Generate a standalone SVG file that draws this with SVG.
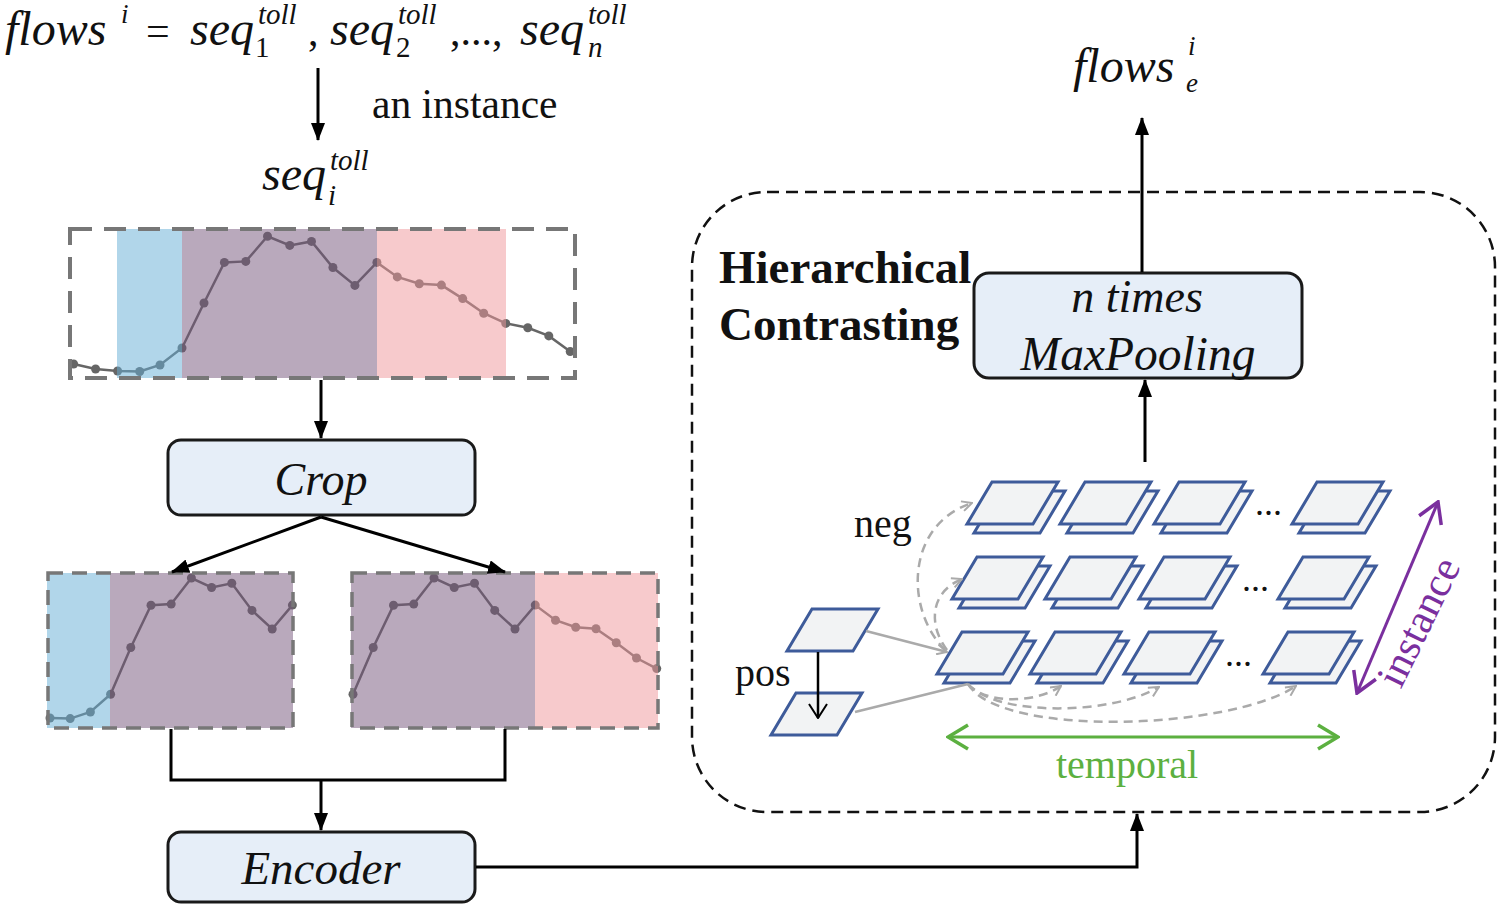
<svg xmlns="http://www.w3.org/2000/svg" xmlns:xlink="http://www.w3.org/1999/xlink" width="1500" height="907" viewBox="0 0 1500 907">
<style>
.it{font-family:"Liberation Serif",serif;font-style:italic;fill:#111}
.rm{font-family:"Liberation Serif",serif;fill:#111}
.bd{font-family:"Liberation Serif",serif;font-weight:bold;fill:#111}
.box{fill:#e6eef8;stroke:#1a1a1a;stroke-width:3}
.conn{fill:none;stroke:#000;stroke-width:3}
.gl{fill:none;stroke:#aaa;stroke-width:2.5}
.gd{fill:none;stroke:#aaa;stroke-width:2.5;stroke-dasharray:9 6}
.pg{fill:#f2f3f4;stroke:#3e5b9a;stroke-width:3;stroke-linejoin:miter}
.ln{fill:none;stroke:#666;stroke-width:2.5}
.dt{fill:#666}
.b1{fill:#63add5;opacity:.5}
.b2{fill:#735379;opacity:.5}
.b3{fill:#ef9599;opacity:.5}
.frame{fill:none;stroke:#777}
</style>
<defs>
<marker id="ah" viewBox="0 0 18 14" refX="17" refY="7" markerWidth="18" markerHeight="14" markerUnits="userSpaceOnUse" orient="auto"><path d="M0,0 L18,7 L0,14 Z" fill="#000"/></marker>
<marker id="ga" viewBox="0 0 12 12" refX="11" refY="6" markerWidth="12" markerHeight="12" markerUnits="userSpaceOnUse" orient="auto"><path d="M1,1 L11,6 L1,11" fill="none" stroke="#aaa" stroke-width="2"/></marker>
<marker id="va" viewBox="0 0 16 20" refX="15" refY="10" markerWidth="16" markerHeight="20" markerUnits="userSpaceOnUse" orient="auto"><path d="M1,1 L15,10 L1,19" fill="none" stroke="#000" stroke-width="2"/></marker>
<marker id="gr" viewBox="0 0 24 28" refX="22" refY="14" markerWidth="24" markerHeight="28" markerUnits="userSpaceOnUse" orient="auto-start-reverse"><path d="M2,2 L22,14 L2,26" fill="none" stroke="#5cb040" stroke-width="3.5"/></marker>
<marker id="pu" viewBox="0 0 24 28" refX="22" refY="14" markerWidth="24" markerHeight="28" markerUnits="userSpaceOnUse" orient="auto-start-reverse"><path d="M2,2 L22,14 L2,26" fill="none" stroke="#7a2f9e" stroke-width="3.5"/></marker>
<path id="pgs" d="M0,0 H66 L41,42 H-25 Z"/>
</defs>

<g id="formula">
<text class="it" x="5" y="45" font-size="48">flows</text>
<text class="it" x="121" y="23" font-size="27">i</text>
<text class="rm" x="146" y="45" font-size="42">=</text>
<text class="it" x="190" y="45" font-size="48">seq</text>
<text class="it" x="258" y="24" font-size="29">toll</text>
<text class="rm" x="255" y="57" font-size="29">1</text>
<text class="rm" x="308" y="45" font-size="42">,</text>
<text class="it" x="330" y="45" font-size="48">seq</text>
<text class="it" x="398" y="24" font-size="29">toll</text>
<text class="rm" x="396" y="57" font-size="29">2</text>
<text class="rm" x="450" y="45" font-size="42">,...,</text>
<text class="it" x="520" y="45" font-size="48">seq</text>
<text class="it" x="588" y="24" font-size="29">toll</text>
<text class="it" x="588" y="57" font-size="29">n</text>
</g>
<g id="instance-label"><text class="rm" x="372" y="118" font-size="41.5">an instance</text></g>
<g id="seq-i">
<text class="it" x="262" y="190" font-size="48">seq</text>
<text class="it" x="330" y="170" font-size="29">toll</text>
<text class="it" x="328" y="205" font-size="29">i</text>
</g>

<g id="chart-full">
<polyline class="ln" points="73.6,364 95.6,369 117.6,371 139.7,371.5 160,365 182,348 204,303 224.4,262.4 245.8,261.4 267.5,236.3 289.8,245.4 311.5,241.4 332.9,267.5 354.9,285.4 376.9,262.4 397.3,276.9 419.3,283.7 441.4,285.1 462.7,298.6 483.7,313.2 505.8,323.4 527.8,327.8 548.8,335.9 570.2,351.5"/>
<g class="dt">
<circle cx="73.6" cy="364" r="4.5"/><circle cx="95.6" cy="369" r="4.5"/><circle cx="117.6" cy="371" r="4.5"/><circle cx="139.7" cy="371.5" r="4.5"/><circle cx="160" cy="365" r="4.5"/><circle cx="182" cy="348" r="4.5"/><circle cx="204" cy="303" r="4.5"/><circle cx="224.4" cy="262.4" r="4.5"/><circle cx="245.8" cy="261.4" r="4.5"/><circle cx="267.5" cy="236.3" r="4.5"/><circle cx="289.8" cy="245.4" r="4.5"/><circle cx="311.5" cy="241.4" r="4.5"/><circle cx="332.9" cy="267.5" r="4.5"/><circle cx="354.9" cy="285.4" r="4.5"/><circle cx="376.9" cy="262.4" r="4.5"/><circle cx="397.3" cy="276.9" r="4.5"/><circle cx="419.3" cy="283.7" r="4.5"/><circle cx="441.4" cy="285.1" r="4.5"/><circle cx="462.7" cy="298.6" r="4.5"/><circle cx="483.7" cy="313.2" r="4.5"/><circle cx="505.8" cy="323.4" r="4.5"/><circle cx="527.8" cy="327.8" r="4.5"/><circle cx="548.8" cy="335.9" r="4.5"/><circle cx="570.2" cy="351.5" r="4.5"/>
</g>
<rect class="b1" x="117" y="229" width="65" height="149"/>
<rect class="b2" x="182" y="229" width="195" height="149"/>
<rect class="b3" x="377" y="229" width="129" height="149"/>
<rect class="frame" x="70" y="229" width="505" height="149" stroke-width="4" stroke-dasharray="22 12"/>
</g>

<g id="crop">
<rect class="box" x="168" y="440" width="307" height="75" rx="13"/>
<text class="it" x="321" y="495" font-size="46" text-anchor="middle">Crop</text>
</g>

<g id="crop-left">
<polyline class="ln" points="50,718 70.2,718.6 90.4,712 110.6,694.3 130.8,647.5 151,605.2 171.2,604.1 191.4,578 211.6,587.5 231.8,583.3 252,610.4 272.2,629 292.4,605.1"/>
<g class="dt">
<circle cx="50" cy="718" r="4.5"/><circle cx="70.2" cy="718.6" r="4.5"/><circle cx="90.4" cy="712" r="4.5"/><circle cx="110.6" cy="694.3" r="4.5"/><circle cx="130.8" cy="647.5" r="4.5"/><circle cx="151" cy="605.2" r="4.5"/><circle cx="171.2" cy="604.1" r="4.5"/><circle cx="191.4" cy="578" r="4.5"/><circle cx="211.6" cy="587.5" r="4.5"/><circle cx="231.8" cy="583.3" r="4.5"/><circle cx="252" cy="610.4" r="4.5"/><circle cx="272.2" cy="629" r="4.5"/><circle cx="292.4" cy="605.1" r="4.5"/>
</g>
<rect class="b1" x="47" y="573" width="63" height="155"/>
<rect class="b2" x="110" y="573" width="183" height="155"/>
<rect class="frame" x="48" y="573" width="245" height="155" stroke-width="3.5" stroke-dasharray="15 9"/>
</g>

<g id="crop-right">
<polyline class="ln" points="353,694.3 373.25,647.5 393.5,605.2 413.75,604.1 434,578 454.25,587.5 474.5,583.3 494.75,610.4 515,629 535.25,605.1 555.5,620.2 575.75,627.3 596,628.8 616.25,642.8 636.5,658 656.75,668.6"/>
<g class="dt">
<circle cx="353" cy="694.3" r="4.5"/><circle cx="373.25" cy="647.5" r="4.5"/><circle cx="393.5" cy="605.2" r="4.5"/><circle cx="413.75" cy="604.1" r="4.5"/><circle cx="434" cy="578" r="4.5"/><circle cx="454.25" cy="587.5" r="4.5"/><circle cx="474.5" cy="583.3" r="4.5"/><circle cx="494.75" cy="610.4" r="4.5"/><circle cx="515" cy="629" r="4.5"/><circle cx="535.25" cy="605.1" r="4.5"/><circle cx="555.5" cy="620.2" r="4.5"/><circle cx="575.75" cy="627.3" r="4.5"/><circle cx="596" cy="628.8" r="4.5"/><circle cx="616.25" cy="642.8" r="4.5"/><circle cx="636.5" cy="658" r="4.5"/><circle cx="656.75" cy="668.6" r="4.5"/>
</g>
<rect class="b2" x="351" y="573" width="184" height="155"/>
<rect class="b3" x="535" y="573" width="123" height="155"/>
<rect class="frame" x="352" y="573" width="306" height="155" stroke-width="3.5" stroke-dasharray="15 9"/>
</g>

<g id="encoder">
<rect class="box" x="168" y="832" width="307" height="70" rx="13"/>
<text class="it" x="321" y="884" font-size="47" text-anchor="middle">Encoder</text>
</g>

<g id="hierarchical-contrasting">
<rect x="692" y="192" width="803" height="620" rx="75" fill="none" stroke="#111" stroke-width="2.5" stroke-dasharray="12 7"/>
<text class="bd" x="719" y="283" font-size="47">Hierarchical</text>
<text class="bd" x="719" y="340" font-size="47">Contrasting</text>
</g>

<g id="maxpooling">
<rect class="box" x="974" y="273" width="328" height="105" rx="15"/>
<text class="it" x="1137" y="312" font-size="46" text-anchor="middle">n times</text>
<text class="it" x="1138" y="370" font-size="47.5" text-anchor="middle">MaxPooling</text>
</g>

<g id="flows-e">
<text class="it" x="1073" y="82" font-size="48">flows</text>
<text class="it" x="1188" y="55" font-size="27">i</text>
<text class="it" x="1186" y="92" font-size="27">e</text>
</g>

<g id="grid">
<g id="r1c1"><use href="#pgs" class="pg" x="999" y="491"/><use href="#pgs" class="pg" x="992" y="482"/></g>
<g id="r1c2"><use href="#pgs" class="pg" x="1092" y="491"/><use href="#pgs" class="pg" x="1085" y="482"/></g>
<g id="r1c3"><use href="#pgs" class="pg" x="1186" y="491"/><use href="#pgs" class="pg" x="1179" y="482"/></g>
<g id="r1c4"><use href="#pgs" class="pg" x="1324" y="491"/><use href="#pgs" class="pg" x="1317" y="482"/></g>
<g id="r2c1"><use href="#pgs" class="pg" x="984" y="566"/><use href="#pgs" class="pg" x="977" y="557"/></g>
<g id="r2c2"><use href="#pgs" class="pg" x="1077" y="566"/><use href="#pgs" class="pg" x="1070" y="557"/></g>
<g id="r2c3"><use href="#pgs" class="pg" x="1171" y="566"/><use href="#pgs" class="pg" x="1164" y="557"/></g>
<g id="r2c4"><use href="#pgs" class="pg" x="1310" y="566"/><use href="#pgs" class="pg" x="1303" y="557"/></g>
<g id="r3c1"><use href="#pgs" class="pg" x="969" y="641"/><use href="#pgs" class="pg" x="962" y="632"/></g>
<g id="r3c2"><use href="#pgs" class="pg" x="1062" y="641"/><use href="#pgs" class="pg" x="1055" y="632"/></g>
<g id="r3c3"><use href="#pgs" class="pg" x="1156" y="641"/><use href="#pgs" class="pg" x="1149" y="632"/></g>
<g id="r3c4"><use href="#pgs" class="pg" x="1295" y="641"/><use href="#pgs" class="pg" x="1288" y="632"/></g>
<text class="rm" x="1255" y="515" font-size="36">...</text>
<text class="rm" x="1242" y="591" font-size="36">...</text>
<text class="rm" x="1225" y="666" font-size="36">...</text>
</g>

<g id="pos-pair">
<use href="#pgs" class="pg" x="812" y="609"/>
<use href="#pgs" class="pg" x="796" y="693"/>
</g>

<g id="labels">
<text class="rm" x="854" y="537" font-size="40">neg</text>
<text class="rm" x="735" y="686" font-size="40">pos</text>
<text class="rm" x="1127" y="778" font-size="40" text-anchor="middle" style="fill:#5cb040">temporal</text>
<text class="rm" x="1431" y="628" font-size="42" text-anchor="middle" style="fill:#7a2f9e" transform="rotate(-64 1431 628)">instance</text>
</g>

<g id="connectors">
<line class="conn" x1="318" y1="68" x2="318" y2="140" marker-end="url(#ah)"/>
<line class="conn" x1="321" y1="380" x2="321" y2="438" marker-end="url(#ah)"/>
<line class="conn" x1="321" y1="517" x2="172" y2="572" marker-end="url(#ah)"/>
<line class="conn" x1="321" y1="517" x2="505" y2="572" marker-end="url(#ah)"/>
<polyline class="conn" points="171,729 171,780 505,780 505,729"/>
<line class="conn" x1="321" y1="780" x2="321" y2="830" marker-end="url(#ah)"/>
<polyline class="conn" points="476,867 1137,867 1137,814" marker-end="url(#ah)"/>
<line class="conn" x1="1145" y1="462" x2="1145" y2="380" marker-end="url(#ah)"/>
<line class="conn" x1="1142" y1="272" x2="1142" y2="118" marker-end="url(#ah)"/>
<line x1="818" y1="652" x2="818" y2="718" stroke="#000" stroke-width="2.5" marker-end="url(#va)"/>
<line class="gl" x1="866" y1="631" x2="947" y2="652" marker-end="url(#ga)"/>
<line class="gl" x1="855" y1="712" x2="968" y2="684"/>
<path class="gd" d="M945,650 C905,610 905,525 972,503" marker-end="url(#ga)"/>
<path class="gd" d="M947,650 C928,625 930,592 962,579" marker-end="url(#ga)"/>
<path class="gd" d="M968,684 C985,704 1035,704 1061,686" marker-end="url(#ga)"/>
<path class="gd" d="M968,684 C995,716 1110,716 1159,687" marker-end="url(#ga)"/>
<path class="gd" d="M968,684 C1000,738 1230,730 1296,686" marker-end="url(#ga)"/>
<line x1="948" y1="737" x2="1338" y2="737" stroke="#5cb040" stroke-width="3" marker-start="url(#gr)" marker-end="url(#gr)"/>
<line x1="1357" y1="693" x2="1438" y2="502" stroke="#7a2f9e" stroke-width="3" marker-start="url(#pu)" marker-end="url(#pu)"/>
</g>
</svg>
